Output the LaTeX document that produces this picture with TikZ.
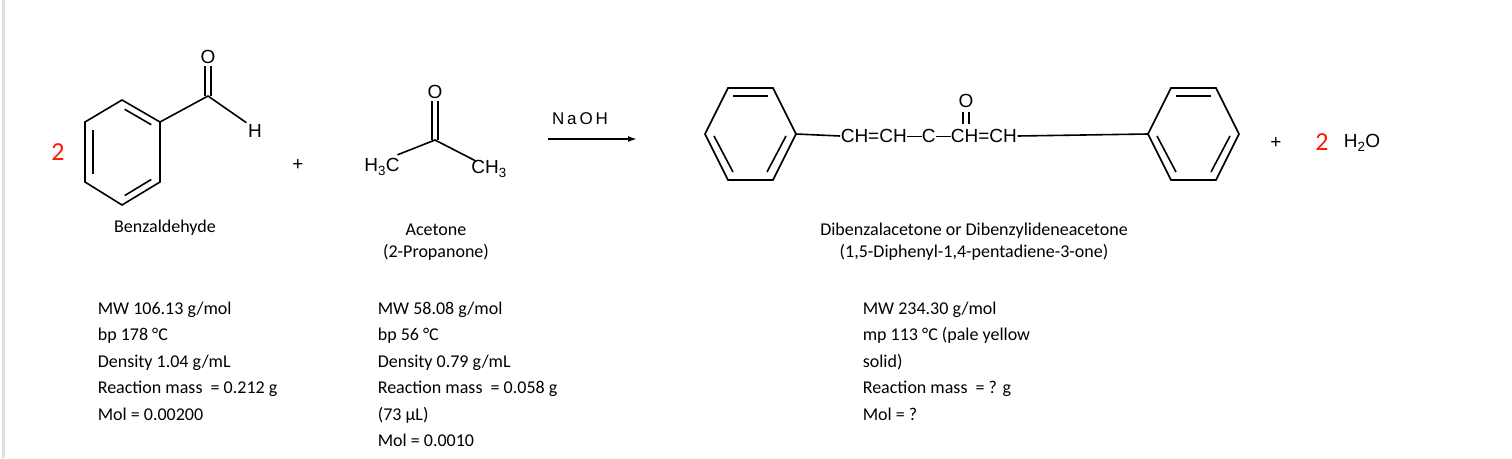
\documentclass[tikz,border=0pt]{standalone}
\usepackage{fontspec}
\setmainfont{Carlito}
\newfontfamily\chemf{Liberation Sans}
\usetikzlibrary{calc,arrows.meta}
\begin{document}
\begin{tikzpicture}[x=1pt,y=-1pt,line width=1.6pt,
  lbl/.style={font=\fontsize{18}{22}\selectfont,inner sep=0pt},
  data/.style={font=\fontsize{18}{26.5}\selectfont,align=left,anchor=north west,inner sep=0pt},
  chem/.style={font=\chemf\fontsize{19}{22}\selectfont,inner sep=1pt},
  red2/.style={font=\fontsize{26}{28}\selectfont,text=red!80!orange,inner sep=0pt}]
\useasboundingbox (0,0) rectangle (1512,458);
\fill[gray!25] (2,0) rectangle (5,458);
% benzaldehyde
\node[red2] (n2a) at (58,152) {2};
\coordinate (b1) at (122,100); \coordinate (b2) at (160,122); \coordinate (b3) at (160,182);
\coordinate (b4) at (122,205); \coordinate (b5) at (85,182); \coordinate (b6) at (85,122);
\draw (b1)--(b2)--(b3)--(b4)--(b5)--(b6)--cycle;
\draw ($(b1)!0.15!(b2)+(-3,6)$) -- ($(b1)!0.85!(b2)+(-3,6)$);
\draw ($(b3)!0.15!(b4)+(-3,-6)$) -- ($(b3)!0.85!(b4)+(-3,-6)$);
\draw (93,130) -- (93,174);
\coordinate (cc) at (208,96);
\node[chem] (o1) at (208,57) {O};
\node[chem] (h1) at (255,131) {H};
\draw (b2) -- (cc) -- (h1.north west);
\draw ([xshift=-3pt]cc) -- ([xshift=-3pt]o1.south);
\draw ([xshift=3pt]cc) -- ([xshift=3pt]o1.south);
\node[chem] (p1) at (298,165) {+};
% acetone
\coordinate (ac) at (435,140);
\node[chem] (o2) at (435,92) {O};
\node[chem] (me1) at (382,167) {H\textsubscript{3}C};
\node[chem] (me2) at (489,169) {CH\textsubscript{3}};
\draw (me1.north east) ++(-4,-2) coordinate (m1) -- (ac) -- ([xshift=6pt,yshift=-2pt]me2.north west);
\draw ([xshift=-3pt]ac) -- ([xshift=-3pt]o2.south);
\draw ([xshift=3pt]ac) -- ([xshift=3pt]o2.south);
% arrow
\coordinate (a1) at (548,139); \coordinate (a2) at (637,139);
\draw[-{Latex[length=9pt,width=6pt]}] (a1) -- (a2);
\node[chem,font=\chemf\fontsize{17}{20}\selectfont] (naoh) at (580,119) {N\,a\,O\,H};
% product left ring (flat top)
\coordinate (l1) at (728,88); \coordinate (l2) at (773,88); \coordinate (l3) at (796,134);
\coordinate (l4) at (773,180); \coordinate (l5) at (728,180); \coordinate (l6) at (705,134);
\draw (l1)--(l2)--(l3)--(l4)--(l5)--(l6)--cycle;
\draw (733,96) -- (768,96);
\draw (714,136) -- (733,172);
\draw (786,136) -- (767,172);
% right ring
\coordinate (r1) at (1171,88); \coordinate (r2) at (1216,88); \coordinate (r3) at (1239,134);
\coordinate (r4) at (1216,180); \coordinate (r5) at (1171,180); \coordinate (r6) at (1148,134);
\draw (r1)--(r2)--(r3)--(r4)--(r5)--(r6)--cycle;
\draw (1176,96) -- (1211,96);
\draw (1230,136) -- (1211,172);
\draw (1157,136) -- (1176,172);
% chain
\node[chem,anchor=west,inner sep=0pt] (chain) at (840,136) {CH=CH\rule[0.32em]{0.8em}{0.8pt}C\rule[0.32em]{0.8em}{0.8pt}CH=CH};
\draw (l3) -- (chain.west);
\draw (chain.east) -- (r6);
\node[chem] (o3) at (966,101) {O};
\draw (963,112) -- (963,124); \draw (969,112) -- (969,124);
\node[chem] (p2) at (1276,143) {+};
\node[red2] (n2b) at (1322,142) {2};
\node[chem,anchor=west] (h2o) at (1342,143) {H\textsubscript{2}O};
% labels
\node[lbl] (t1) at (165,228) {Benzaldehyde};
\node[lbl,align=center] (t2) at (436,242) {Acetone\\(2-Propanone)};
\node[lbl,align=center] (t3) at (974,242) {Dibenzalacetone or Dibenzylideneacetone\\(1,5-Diphenyl-1,4-pentadiene-3-one)};
\node[data] (d1) at (97,301) {MW 106.13 g/mol\\bp 178 °C\\Density 1.04 g/mL\\Reaction mass \ = 0.212 g\\Mol = 0.00200};
\node[data] (d2) at (377,301) {MW 58.08 g/mol\\bp 56 °C\\Density 0.79 g/mL\\Reaction mass \ = 0.058 g\\(73 µL)\\Mol = 0.0010};
\node[data] (d3) at (862,301) {MW 234.30 g/mol\\mp 113 °C (pale yellow\\solid)\\Reaction mass \ = ? g\\Mol = ?};
\end{tikzpicture}
\end{document}
